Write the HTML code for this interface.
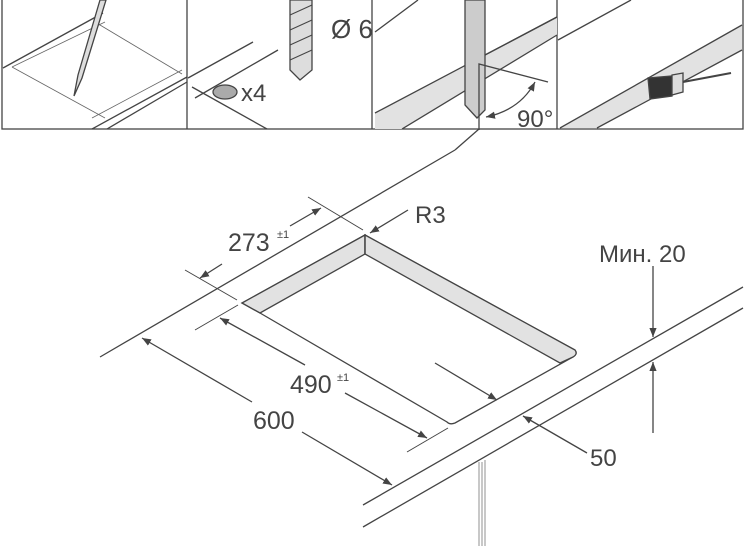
<!DOCTYPE html>
<html><head><style>html,body{margin:0;padding:0;background:#fff}svg{display:block}
text{font-family:"Liberation Sans",sans-serif;fill:#444}</style></head><body>
<svg width="750" height="546" viewBox="0 0 750 546" xmlns="http://www.w3.org/2000/svg">
<defs><marker id="a" viewBox="0 0 10 10" refX="10" refY="5" markerWidth="9" markerHeight="9" orient="auto-start-reverse" markerUnits="userSpaceOnUse"><path d="M0,1 L10,5 L0,9 z" fill="#444"/></marker></defs>
<g stroke="#444" stroke-width="1.3" fill="none">
<rect x="2" y="-2" width="741" height="131"/>
<line x1="187" y1="0" x2="187" y2="129"/><line x1="372" y1="0" x2="372" y2="129"/><line x1="557" y1="0" x2="557" y2="129"/>
<line x1="3" y1="68" x2="103" y2="13"/>
<g stroke-width="0.8" stroke="#666"><line x1="12" y1="67" x2="105" y2="22"/><line x1="95" y1="22" x2="182" y2="74"/><line x1="12" y1="67" x2="105" y2="118"/><line x1="92" y1="118" x2="182" y2="70"/></g>
<line x1="92" y1="129" x2="187" y2="77"/><line x1="107" y1="129" x2="187" y2="82"/>
<path d="M74,96 L78,75 L100,0 L106,0 L82,78 Z" fill="#ddd"/>
<line x1="188" y1="78" x2="253" y2="42"/><line x1="195" y1="98" x2="278" y2="50"/><line x1="192" y1="87" x2="267" y2="129"/>
<ellipse cx="225" cy="92" rx="12" ry="7" fill="#aaa"/>
<path d="M290,0 L312,0 L312,70 L300,80 L290,70 Z" fill="#ddd"/>
<g stroke-width="1"><line x1="290" y1="15" x2="312" y2="5"/><line x1="290" y1="30" x2="312" y2="20"/><line x1="290" y1="45" x2="312" y2="35"/><line x1="290" y1="60" x2="312" y2="50"/></g>
<path d="M375,113 L557,17 L557,35 L402,129 L375,129 Z" fill="#e2e2e2" stroke="none"/>
<line x1="375" y1="113" x2="557" y2="17"/><line x1="402" y1="129" x2="557" y2="35"/>
<line x1="375" y1="32" x2="418" y2="0"/><line x1="485" y1="55" x2="557" y2="17"/>
<path d="M465,0 L485,0 L485,110 L477,118 L465,105 Z" fill="#ccc"/>
<polyline points="479,130 479,64 548,82"/>
<path d="M486,117 Q520,110 535,82" marker-start="url(#a)" marker-end="url(#a)"/>
<path d="M560,128 L742,25 L742,50 L597,128 Z" fill="#e2e2e2" stroke="none"/>
<line x1="560" y1="128" x2="742" y2="25"/><line x1="597" y1="128" x2="742" y2="50"/><line x1="558" y1="40" x2="631" y2="0"/>
<path d="M648,78 L672,76 L672,96 L650,99 Z" fill="#333"/>
<path d="M672,75 L683,73 L683,92 L672,95 Z" fill="#ddd"/>
<line x1="683" y1="82" x2="731" y2="73" stroke-width="2"/>
<line x1="479" y1="129" x2="455" y2="150"/>
<line x1="100" y1="357" x2="455" y2="150"/>
<line x1="363" y1="505" x2="743" y2="287"/><line x1="363" y1="527" x2="743" y2="308"/>
<path d="M365,235 L575,350 Q578,354 573,357 L455,423 Q450,425 447,422 L260,313 L242,303 Z" fill="#fff"/>
<path d="M365,235 L242,303 L260,313 L365,254 Z" fill="#e2e2e2"/>
<path d="M365,235 L575,350 Q578,354 573,357 L560,363 L365,254 Z" fill="#e2e2e2"/>
<line x1="365" y1="235" x2="365" y2="254"/>
<g stroke-width="1"><line x1="308" y1="197" x2="363" y2="230"/><line x1="185" y1="270" x2="237" y2="300"/>
<line x1="195" y1="330" x2="238" y2="305"/><line x1="407" y1="452" x2="448" y2="428"/></g>
<line x1="222" y1="264" x2="200" y2="278" marker-end="url(#a)"/>
<line x1="290" y1="226" x2="321" y2="208" marker-end="url(#a)"/>
<line x1="305" y1="365" x2="220" y2="318" marker-end="url(#a)"/>
<line x1="345" y1="393" x2="427" y2="438" marker-end="url(#a)"/>
<line x1="252" y1="402" x2="142" y2="338" marker-end="url(#a)"/>
<line x1="302" y1="432" x2="392" y2="485" marker-end="url(#a)"/>
<line x1="435" y1="363" x2="497" y2="400" marker-end="url(#a)"/>
<line x1="408" y1="210" x2="370" y2="233" marker-end="url(#a)"/>
<line x1="587" y1="453" x2="523" y2="416" marker-end="url(#a)"/>
<line x1="653" y1="266" x2="653" y2="337" marker-end="url(#a)"/>
<line x1="653" y1="433" x2="653" y2="362" marker-end="url(#a)"/>
<g stroke-width="0.8" stroke="#777"><line x1="479" y1="462" x2="479" y2="546"/><line x1="482" y1="462" x2="482" y2="546"/><line x1="485" y1="460" x2="485" y2="546"/></g>
</g>
<text x="331" y="38" font-size="26">Ø 6</text>
<text x="241" y="101" font-size="24">x4</text>
<text x="517" y="127" font-size="24">90°</text>
<text x="228" y="251" font-size="25">273</text><text x="277" y="238" font-size="11">±1</text>
<text x="415" y="223" font-size="24">R3</text>
<text x="290" y="393" font-size="25">490</text><text x="337" y="381" font-size="11">±1</text>
<text x="253" y="429" font-size="25">600</text>
<text x="590" y="466" font-size="24">50</text>
<text x="599" y="262" font-size="24">Мин. 20</text>
</svg>
</body></html>
